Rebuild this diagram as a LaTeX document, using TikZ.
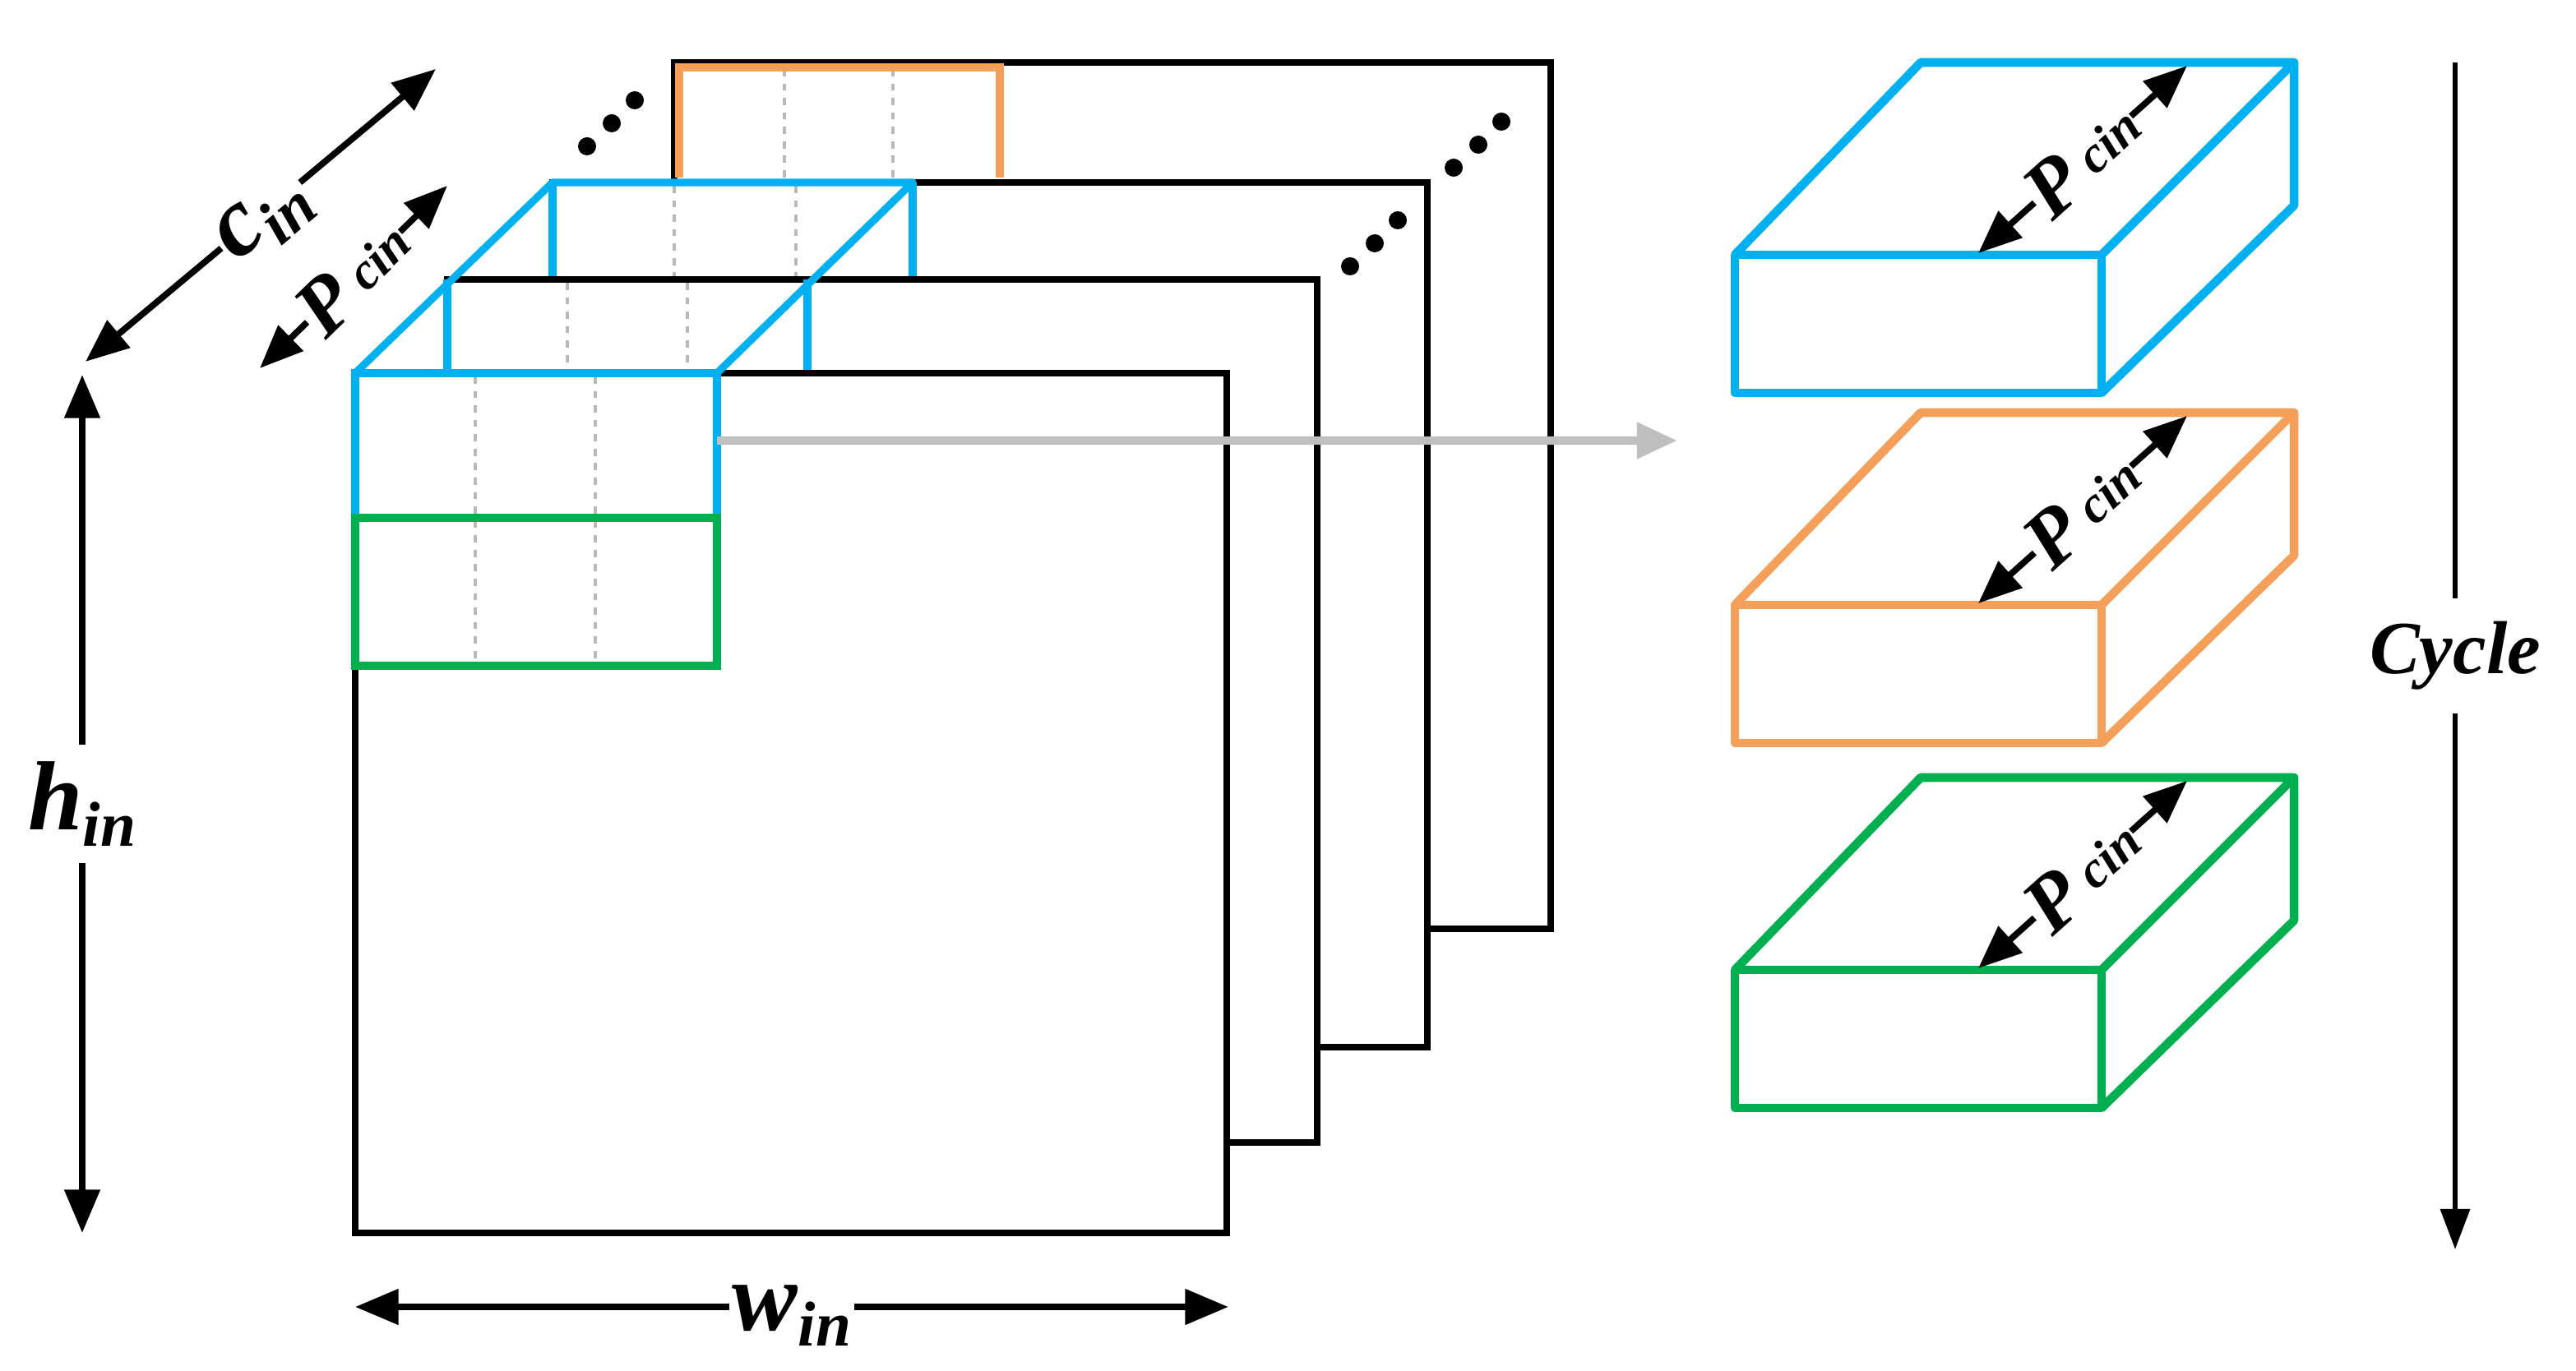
\documentclass[tikz,border=0pt]{standalone}
\usepackage{fontspec}
\setmainfont{Liberation Serif}
\usetikzlibrary{arrows.meta}
\definecolor{cblue}{RGB}{0,176,240}
\definecolor{corange}{RGB}{244,160,90}
\definecolor{cgreen}{RGB}{0,176,80}
\tikzset{
  frame/.style={draw=black,line width=2.4pt,fill=white},
  cl/.style={line width=2.6pt},
  dotl/.style={draw=gray!55,line width=1pt,dash pattern=on 2.5pt off 2.5pt},
  dim/.style={line width=2.2pt,{Triangle[length=15pt,width=12pt]}-{Triangle[length=15pt,width=12pt]}},
  dimone/.style={line width=1.8pt,-{Triangle[length=14pt,width=10pt]}},
  lab/.style={font=\bfseries\itshape,fill=white,inner sep=1pt},
  dot/.style={fill=black,draw=none}
}
\newcommand{\pcin}{\fontsize{28}{28}\selectfont P\,\raisebox{0.15ex}{\fontsize{18}{18}\selectfont cin}}
\begin{document}
\begin{tikzpicture}[x=0.02cm,y=-0.02cm]
\useasboundingbox (0,0) rectangle (1566.5,834);
% frame 4
\draw[frame] (410,38) rectangle (943,565);
\draw[dotl] (477,42) -- (477,108) (543,42) -- (543,108);
\draw[corange,cl] (413,108) -- (413,41) -- (608,41) -- (608,108);
% frame 3
\draw[frame] (336,111) rectangle (868,637);
\draw[dotl] (410,113) -- (410,168) (484,113) -- (484,168);
\draw[cblue,cl] (336,111) -- (336,168) (555,111) -- (555,168);
% frame 2
\draw[frame] (272,170) rectangle (801,695);
\draw[dotl] (345,172) -- (345,227) (418,172) -- (418,227);
\draw[cblue,cl] (272,170) -- (272,227) (491,170) -- (491,227);
% frame 1
\draw[frame] (216,227) rectangle (746,750);
\draw[dotl] (289,229) -- (289,405) (362,229) -- (362,405);
\draw[cblue,cl] (216,315) -- (216,227) -- (436,227) -- (436,315) -- cycle;
\draw[cgreen,cl] (216,315) rectangle (436,405);
\draw[cblue,cl,line join=round] (216,227) -- (336,111) -- (555,111) -- (436,227);
% ellipsis dots
\foreach \p in {(357,89),(372,75),(386,61),(884,102),(899,88),(913,74),(821,162),(836,148),(850,134)}
  \fill[dot] \p circle (5.5);
% gray arrow
\coordinate (ga) at (436,268);
\coordinate (gb) at (1020,268);
\draw[gray!50,line width=3pt,-{Triangle[length=14pt,width=12pt]}] (ga) -- (gb);
% c_in
\coordinate (c1) at (52,220); \coordinate (c2) at (265,42);
\draw[dim] (c1) -- (c2) node[midway,lab,sloped,yshift=-2pt] {\fontsize{34}{34}\selectfont c\raisebox{-0.35ex}{\fontsize{22}{22}\selectfont in}};
% P_cin left
\coordinate (p1) at (158,224); \coordinate (p2) at (272,113);
\draw[dim] (p1) -- (p2) node[midway,lab,sloped,inner xsep=0pt] {\pcin};
% h_in
\coordinate (h1) at (50,228); \coordinate (h2) at (50,750);
\draw[dim] (h1) -- (h2) node[pos=0.5,lab,inner ysep=6pt] {\fontsize{34}{34}\selectfont h\raisebox{-0.35ex}{\fontsize{22}{22}\selectfont in}};
% w_in
\coordinate (w1) at (216,795); \coordinate (w2) at (747,795);
\draw[dim] (w1) -- (w2) node[pos=0.5,lab,yshift=-3pt] {\fontsize{34}{34}\selectfont w\raisebox{-0.35ex}{\fontsize{22}{22}\selectfont in}};
% Cycle
\coordinate (y1) at (1493,38); \coordinate (y2) at (1493,760);
\draw[dimone] (y1) -- (y2) node[pos=0.5,lab,inner ysep=8pt] {\fontsize{26}{26}\selectfont Cycle};
% right boxes
\foreach \c/\t/\lbl in {cblue/155/b,corange/368/o,cgreen/590/g}{
  \draw[\c,line width=3pt,line join=round] (1055,\t) rectangle (1278,\t+84);
  \draw[\c,line width=3pt,line join=round] (1055,\t) -- (1168,\t-117) -- (1395,\t-117) -- (1278,\t);
  \draw[\c,line width=3pt,line join=round] (1395,\t-117) -- (1395,\t-30) -- (1278,\t+84);
  \coordinate (\lbl1) at (1203,\t-1);
  \coordinate (\lbl2) at (1330,\t-115);
  \draw[dim] (\lbl1) -- (\lbl2) node[midway,font=\bfseries\itshape,sloped,inner sep=0pt,fill=white] {\pcin};
}
\end{tikzpicture}
\end{document}
